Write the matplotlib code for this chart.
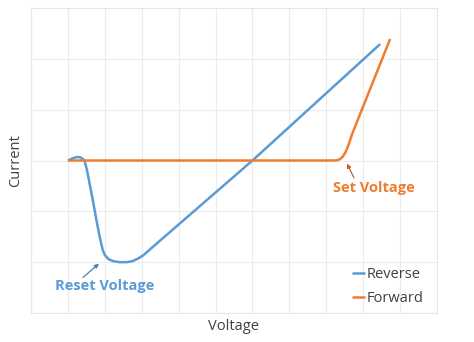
import matplotlib
matplotlib.use("Agg")
import matplotlib.pyplot as plt

# Data (axis units: x grid 0..11, y grid -3..3)
reverse_x = [1.0, 1.12, 1.25, 1.35, 1.45, 1.52, 1.6, 1.68, 1.78, 1.86, 1.94, 2.0, 2.1, 2.23, 2.4, 2.59, 2.75, 2.9, 3.05, 3.3, 6.0, 9.46]
reverse_y = [0.0, 0.04, 0.07, 0.06, 0.0, -0.2, -0.5, -0.8, -1.2, -1.5, -1.75, -1.86, -1.94, -1.98, -2.0, -2.0, -1.98, -1.93, -1.86, -1.7, 0.0, 2.29]
forward_x = [1.0, 8.2, 8.3, 8.38, 8.45, 8.52, 8.6, 8.7, 9.73]
forward_y = [0.0, 0.0, 0.005, 0.03, 0.08, 0.16, 0.3, 0.52, 2.39]
series_labels = ["Reverse", "Forward"]
x_label = "Voltage"
y_label = "Current"
reset_label = "Reset Voltage"
set_label = "Set Voltage"

BLUE = "#5B9BD5"
ORANGE = "#ED7D31"
FONT = "Open Sans"

fig = plt.figure(figsize=(4.74, 3.42), dpi=100)
ax = fig.add_axes([31/474, 29/342, 406/474, 305/342])

ax.plot(reverse_x, reverse_y, color=BLUE, lw=1.8, label=series_labels[0], solid_capstyle="butt")
ax.plot(forward_x, forward_y, color=ORANGE, lw=1.8, label=series_labels[1], solid_capstyle="butt")

ax.set_xlim(0, 11)
ax.set_ylim(-3, 3)
ax.set_xticks(range(0, 12))
ax.set_yticks(range(-3, 4))
ax.grid(True, color="#EBEBEB", lw=0.8)
ax.tick_params(length=0, labelbottom=False, labelleft=False)
for s in ax.spines.values():
    s.set_color("#E6E6E6")
    s.set_linewidth(0.8)
ax.set_axisbelow(True)

ax.set_xlabel(x_label, fontsize=10.5, family=FONT, color="#404040", labelpad=4)
ax.set_ylabel(y_label, fontsize=10.5, family=FONT, color="#404040", labelpad=6)

ax.text(2.0, -2.46, reset_label, fontsize=10.5, fontweight="bold", family=FONT,
        color=BLUE, ha="center", va="center")
ax.annotate("", xy=(1.84, -2.03), xytext=(1.41, -2.3),
            arrowprops=dict(arrowstyle="-|>", color="#4F7FAF", lw=0.9,
                            mutation_scale=6, shrinkA=0, shrinkB=0))
ax.text(9.28, -0.55, set_label, fontsize=10.5, fontweight="bold", family=FONT,
        color=ORANGE, ha="center", va="center")
ax.annotate("", xy=(8.56, -0.06), xytext=(8.75, -0.34),
            arrowprops=dict(arrowstyle="-|>", color="#C0602A", lw=0.9,
                            mutation_scale=6, shrinkA=0, shrinkB=0))

leg = ax.legend(loc="lower right", bbox_to_anchor=(1.0, -0.02), frameon=False,
                handlelength=0.9, handletextpad=0.15, labelspacing=0.6,
                prop={"family": FONT, "size": 10.5})
for t in leg.get_texts():
    t.set_color("#404040")

fig.savefig("out.png", dpi=100)
